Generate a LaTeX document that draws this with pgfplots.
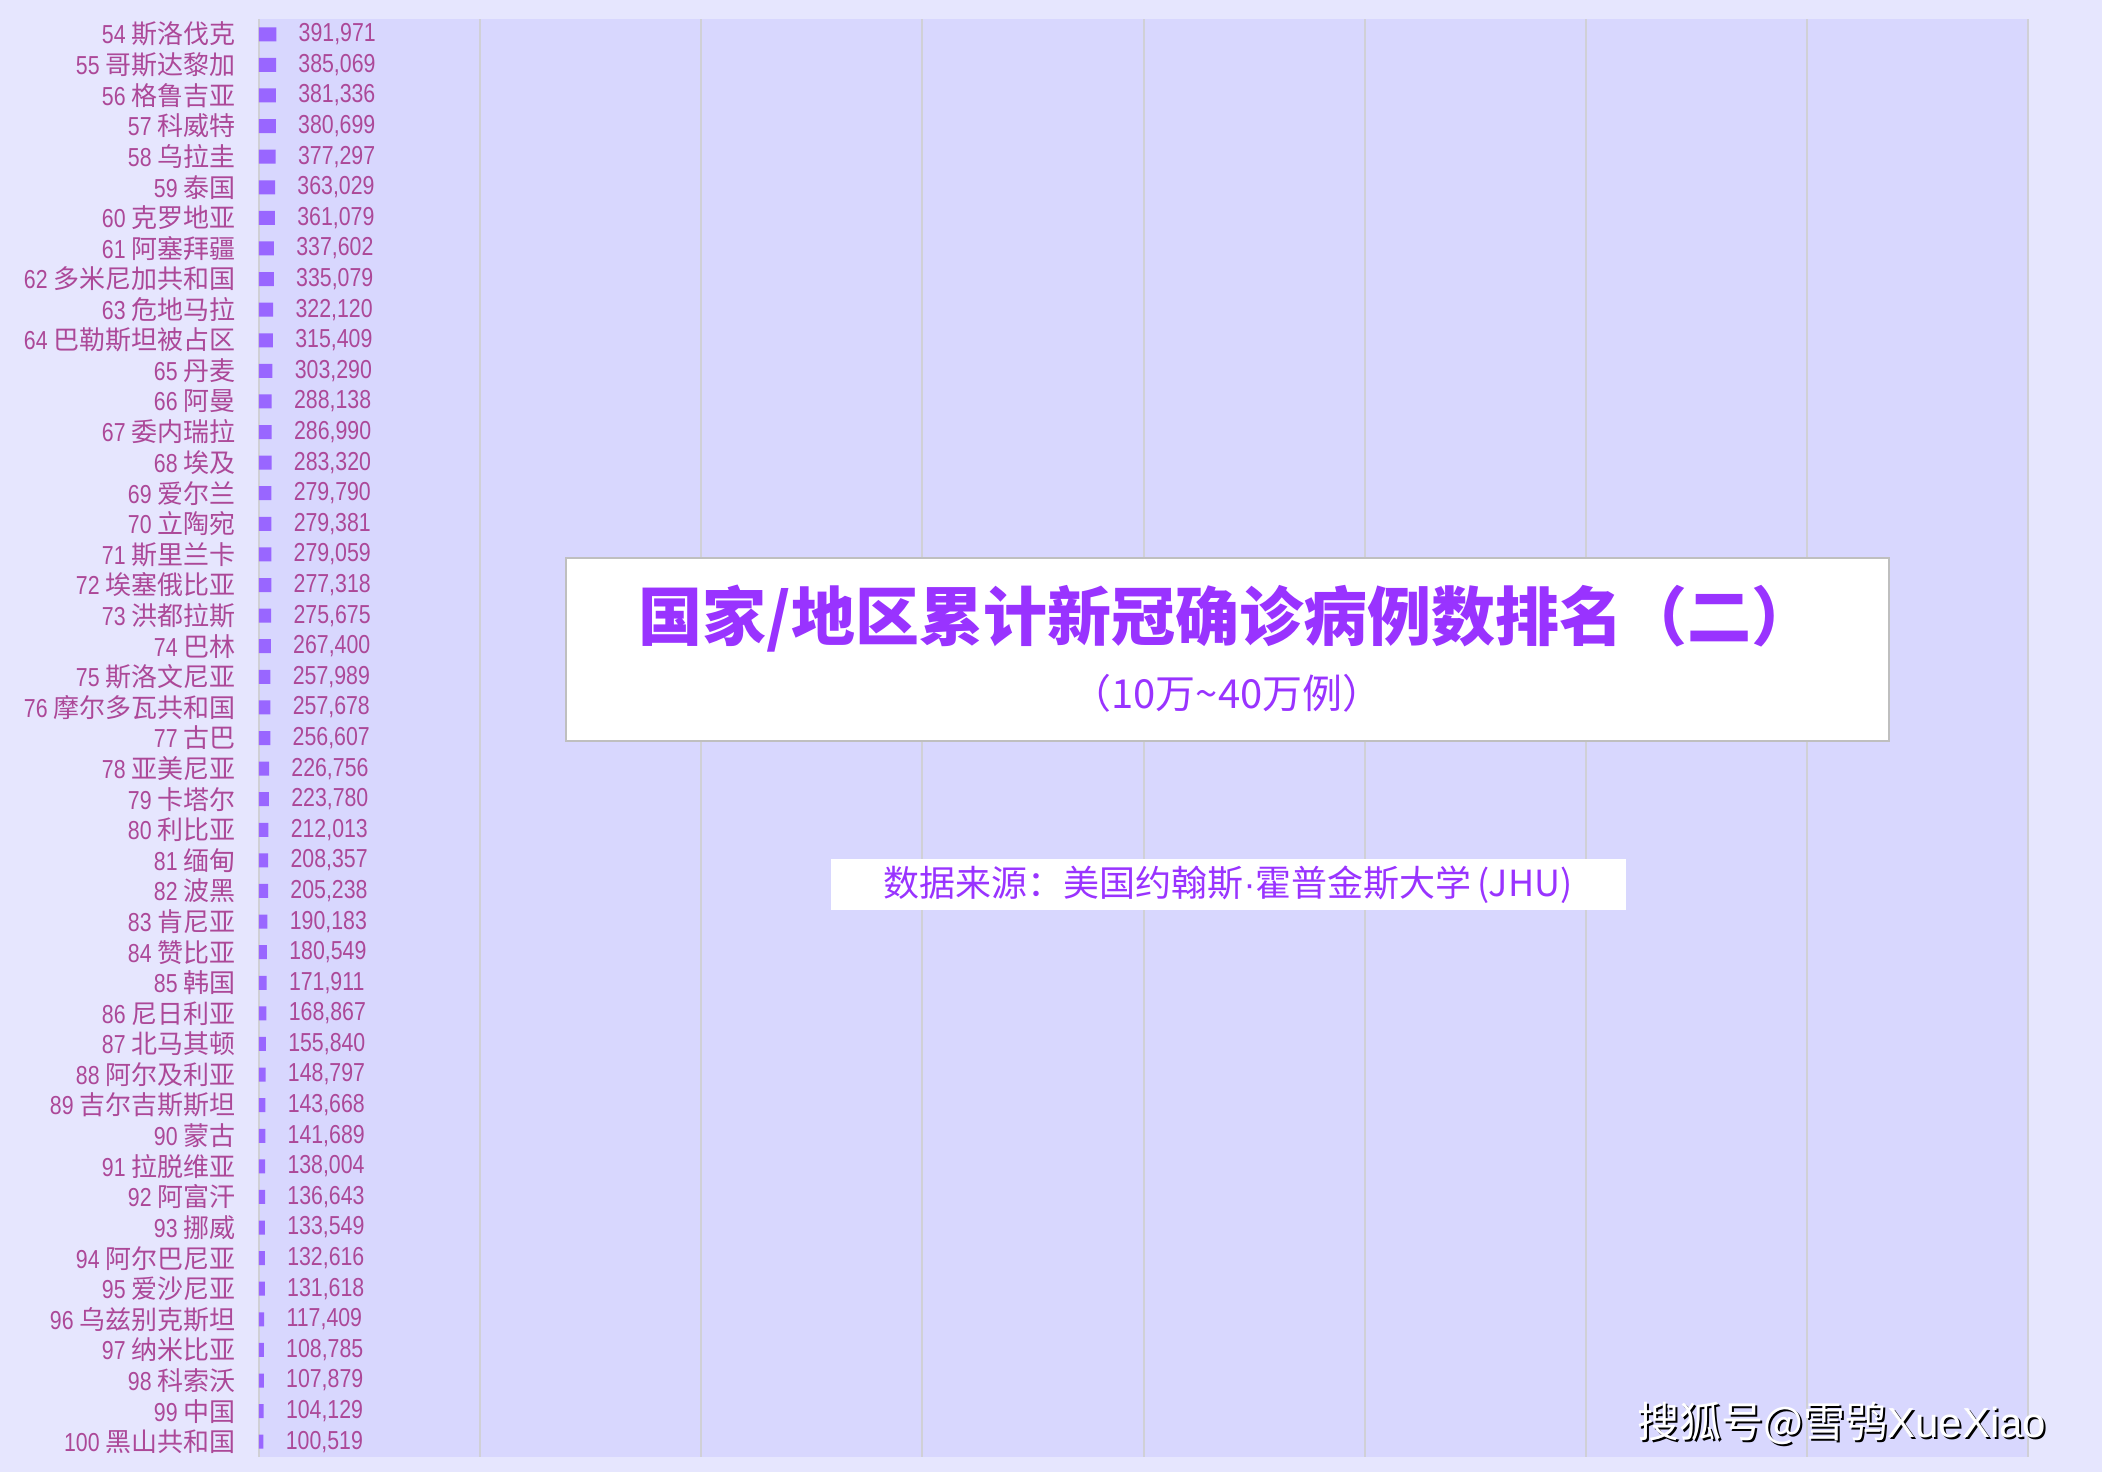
\documentclass[border=0pt]{standalone}
\usepackage{pgfplots}
\usepackage{pgfplotstable}
\pgfplotsset{compat=1.18}
\usepackage{fontspec}
\setmainfont{Liberation Sans}[FakeStretch=0.82]
\newfontfamily\cjk{Noto Sans CJK SC}
\newfontfamily\wmlatin{Liberation Sans}

\definecolor{outerbg}{RGB}{230,230,254}
\definecolor{plotbg}{RGB}{216,215,254}
\definecolor{barcol}{RGB}{153,102,255}
\definecolor{labcol}{RGB}{172,72,152}
\definecolor{titlecol}{RGB}{153,51,255}
\definecolor{gridcol}{RGB}{208,208,214}

% rank, confirmed cases
\pgfplotstableread{
idx value
0  391971
1  385069
2  381336
3  380699
4  377297
5  363029
6  361079
7  337602
8  335079
9  322120
10 315409
11 303290
12 288138
13 286990
14 283320
15 279790
16 279381
17 279059
18 277318
19 275675
20 267400
21 257989
22 257678
23 256607
24 226756
25 223780
26 212013
27 208357
28 205238
29 190183
30 180549
31 171911
32 168867
33 155840
34 148797
35 143668
36 141689
37 138004
38 136643
39 133549
40 132616
41 131618
42 117409
43 108785
44 107879
45 104129
46 100519
}\cases

\newcommand\lab[2]{#1 {\cjk #2}}

\begin{document}
\begin{tikzpicture}
\fill[outerbg] (-129.5pt,-7.5pt) rectangle (921.5pt,728.5pt);
\useasboundingbox (-129.5pt,-7.5pt) rectangle (921.5pt,728.5pt);
\begin{axis}[
    at={(0,0)}, anchor=south west,
    scale only axis,
    width=884.5pt, height=719pt,
    xbar, bar width=7pt,
    xmin=0, xmax=40000000,
    ymin=-0.5, ymax=46.5,
    enlarge y limits=false,
    y dir=reverse,
    xtick={0,5000000,...,40000000},
    xticklabels={},
    ytick={0,...,46},
    yticklabels={
      \lab{54}{斯洛伐克}, \lab{55}{哥斯达黎加}, \lab{56}{格鲁吉亚}, \lab{57}{科威特},
      \lab{58}{乌拉圭}, \lab{59}{泰国}, \lab{60}{克罗地亚}, \lab{61}{阿塞拜疆},
      \lab{62}{多米尼加共和国}, \lab{63}{危地马拉}, \lab{64}{巴勒斯坦被占区}, \lab{65}{丹麦},
      \lab{66}{阿曼}, \lab{67}{委内瑞拉}, \lab{68}{埃及}, \lab{69}{爱尔兰},
      \lab{70}{立陶宛}, \lab{71}{斯里兰卡}, \lab{72}{埃塞俄比亚}, \lab{73}{洪都拉斯},
      \lab{74}{巴林}, \lab{75}{斯洛文尼亚}, \lab{76}{摩尔多瓦共和国}, \lab{77}{古巴},
      \lab{78}{亚美尼亚}, \lab{79}{卡塔尔}, \lab{80}{利比亚}, \lab{81}{缅甸},
      \lab{82}{波黑}, \lab{83}{肯尼亚}, \lab{84}{赞比亚}, \lab{85}{韩国},
      \lab{86}{尼日利亚}, \lab{87}{北马其顿}, \lab{88}{阿尔及利亚}, \lab{89}{吉尔吉斯斯坦},
      \lab{90}{蒙古}, \lab{91}{拉脱维亚}, \lab{92}{阿富汗}, \lab{93}{挪威},
      \lab{94}{阿尔巴尼亚}, \lab{95}{爱沙尼亚}, \lab{96}{乌兹别克斯坦}, \lab{97}{纳米比亚},
      \lab{98}{科索沃}, \lab{99}{中国}, \lab{100}{黑山共和国}},
    major tick length=0pt,
    yticklabel style={font=\fontsize{13}{13}\selectfont, text=labcol,
        anchor=east, inner sep=0pt, xshift=-11.5pt},
    xmajorgrids,
    grid style={gridcol, line width=1pt},
    axis line style={draw=none},
    axis background/.style={fill=plotbg},
    /pgf/number format/assume math mode=true,
    point meta=x,
    nodes near coords={\pgfmathprintnumber[fixed,precision=0,1000 sep={,}]{\pgfplotspointmeta}},
    nodes near coords style={font=\fontsize{13}{13}\selectfont, text=labcol,
        anchor=west, inner sep=0pt, xshift=11pt},
]
\addplot[fill=barcol, draw=none] table[x=value, y=idx] {\cases};
\end{axis}

% title box
\draw[fill=white, draw=black!25, line width=1pt] (153.5pt,358pt) rectangle (815pt,449.5pt);
\node[text=titlecol, inner sep=0pt] at (484pt,419pt)
  {\cjk\bfseries\fontsize{32}{32}\selectfont 国家/地区累计新冠确诊病例数排名（二）};
\node[text=titlecol, inner sep=0pt] at (484pt,382pt)
  {\cjk\fontsize{20}{20}\selectfont （10万\textasciitilde 40万例）};
% source box
\fill[white] (286pt,273.5pt) rectangle (683.5pt,299pt);
\node[text=titlecol, inner sep=0pt] at (484.5pt,286pt)
  {\cjk\fontsize{18}{18}\selectfont 数据来源：美国约翰斯{\wmlatin ·}霍普金斯大学\hspace{3pt}(JHU)};
% watermark
\node[text=black, inner sep=0pt] at (792.5pt,16pt)
  {\fontsize{21}{21}\selectfont{\cjk 搜狐号@雪鸮}{\wmlatin XueXiao}};
\node[text=white, inner sep=0pt] at (791.5pt,17pt)
  {\fontsize{21}{21}\selectfont{\cjk 搜狐号@雪鸮}{\wmlatin XueXiao}};
\end{tikzpicture}
\end{document}
